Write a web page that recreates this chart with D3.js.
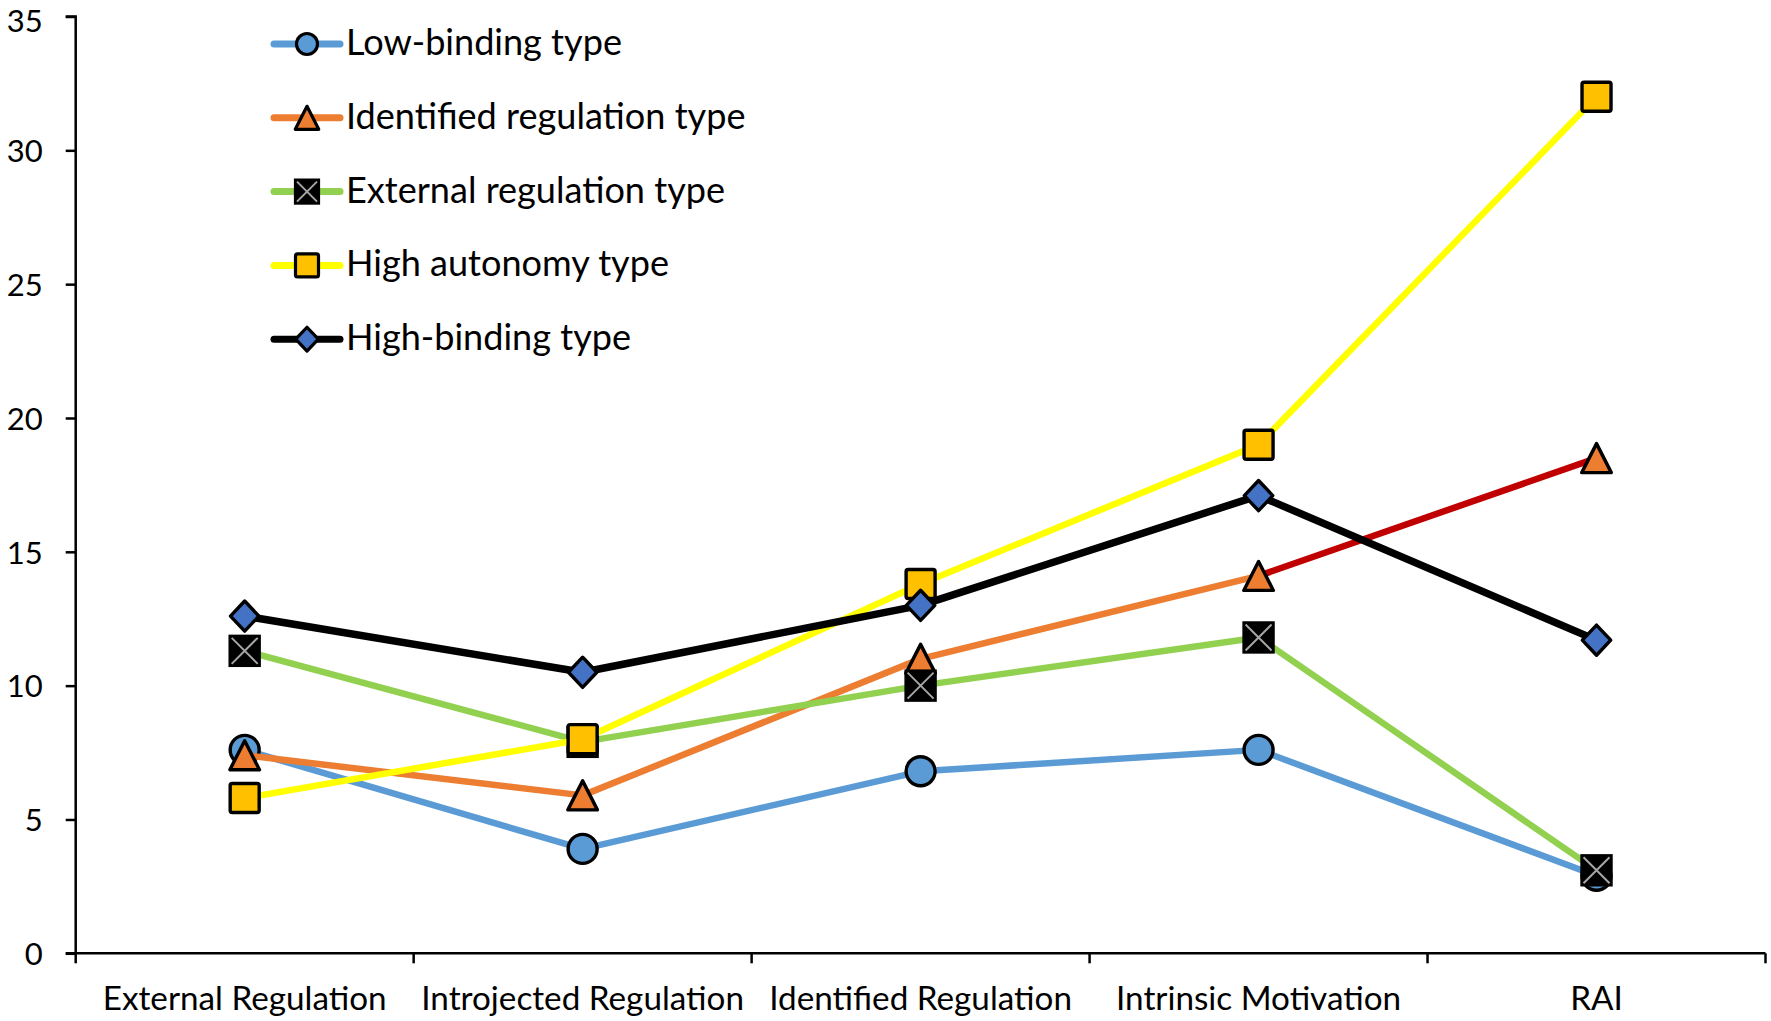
<!DOCTYPE html>
<html>
<head>
<meta charset="utf-8">
<script src="https://cdn.jsdelivr.net/npm/d3@7"></script>
<style>
  html, body { margin: 0; padding: 0; background: #fff; }
  svg { display: block; }
  text { font-family: Lato, "Open Sans", sans-serif; fill: #000; }
</style>
</head>
<body>
<svg id="chart" width="1771" height="1021"></svg>
<script>
// ---------------- DATA ----------------
const categories = ["External Regulation", "Introjected Regulation", "Identified Regulation", "Intrinsic Motivation", "RAI"];
const seriesNames = ["Low-binding type", "Identified regulation type", "External regulation type", "High autonomy type", "High-binding type"];
const lowBinding         = [7.6, 3.9, 6.8, 7.6, 2.9];
const identifiedRegType  = [7.4, 5.9, 11.0, 14.1, 18.5];
const externalRegType    = [11.3, 7.9, 10.0, 11.8, 3.1];
const highAutonomy       = [5.8, 8.0, 13.8, 19.0, 32.0];
const highBinding        = [12.6, 10.5, 13.0, 17.1, 11.7];
const yTickValues = [0, 5, 10, 15, 20, 25, 30, 35];

// ---------------- STYLES ----------------
const seriesValues = [lowBinding, identifiedRegType, externalRegType, highAutonomy, highBinding];
const styles = [
  { line: ["#5B9BD5"], width: 6.5, marker: "circle",   fill: "#5B9BD5" },
  { line: ["#ED7D31", "#ED7D31", "#ED7D31", "#C00000"], width: 6.5, marker: "triangle", fill: "#ED7D31" },
  { line: ["#92D050"], width: 6.5, marker: "xsquare",  fill: "#000000" },
  { line: ["#FFFF00"], width: 6.5, marker: "square",   fill: "#FFC000" },
  { line: ["#000000"], width: 7.5, marker: "diamond",  fill: "#4472C4" }
];

const svg = d3.select("#chart");

// Font size calibration (target widths measured on reference)
function fitSize(str, target) {
  const t = svg.append("text").attr("font-size", 100).text(str);
  const w = t.node().getComputedTextLength();
  t.remove();
  return 100 * target / w;
}
const axisFont = fitSize("External Regulation", 284);
const yTickFont = fitSize("35", 36);
const legendFont = fitSize("Low-binding type", 276);

// ---------------- SCALES ----------------
const x0 = 75.7, x1 = 1765.5, yBottom = 953.3, yTop = 16.5;
const x = d3.scaleBand().domain(categories).range([x0, x1]).paddingInner(0).paddingOuter(0);
const y = d3.scaleLinear().domain([0, 35]).range([yBottom, yTop]);
const cx = c => x(c) + x.bandwidth() / 2;

// ---------------- AXES ----------------
const yAxis = svg.append("g")
  .attr("transform", `translate(${x0},0)`)
  .call(d3.axisLeft(y).tickValues(yTickValues).tickSize(10).tickPadding(23).tickFormat(d3.format("d")));
yAxis.select(".domain").attr("stroke", "#000").attr("stroke-width", 2.5).attr("d", `M-10,${yTop}H0V${yBottom}`);
yAxis.selectAll(".tick line").attr("stroke", "#000").attr("stroke-width", 2.5);
yAxis.selectAll(".tick text").attr("font-size", yTickFont).attr("font-family", "Lato").attr("fill", "#000")
  .attr("dy", d => d === 35 ? "0.48em" : "0.36em");

const xAxis = svg.append("g")
  .attr("transform", `translate(0,${yBottom})`)
  .call(d3.axisBottom(x).tickSize(0).tickPadding(0));
xAxis.select(".domain").attr("stroke", "#000").attr("stroke-width", 2.5).attr("d", `M${x0 - 10},0H${x1}`);
xAxis.selectAll(".tick text").attr("font-size", axisFont).attr("font-family", "Lato").attr("fill", "#000").attr("y", 57).attr("dy", 0);
// category boundary ticks
const boundaries = categories.map(c => x(c) + x.bandwidth()).concat([x0]);
xAxis.selectAll("line.bound").data(boundaries).enter().append("line")
  .attr("class", "bound")
  .attr("x1", d => d).attr("x2", d => d)
  .attr("y1", 0).attr("y2", 10)
  .attr("stroke", "#000").attr("stroke-width", 2.5);

// ---------------- MARKERS ----------------
function drawMarker(g, type, fill, s, sw) {
  if (type === "circle") {
    g.append("circle").attr("r", s / 2).attr("fill", fill).attr("stroke", "#000").attr("stroke-width", sw);
  } else if (type === "triangle") {
    const w = s * 1.02, h = s;
    g.append("path").attr("d", `M0,${-h / 2}L${w / 2},${h / 2}L${-w / 2},${h / 2}Z`)
      .attr("fill", fill).attr("stroke", "#000").attr("stroke-width", sw).attr("stroke-linejoin", "round");
  } else if (type === "square") {
    g.append("rect").attr("x", -s / 2).attr("y", -s / 2).attr("width", s).attr("height", s).attr("rx", 2)
      .attr("fill", fill).attr("stroke", "#000").attr("stroke-width", sw);
  } else if (type === "xsquare") {
    g.append("rect").attr("x", -s / 2).attr("y", -s / 2).attr("width", s).attr("height", s)
      .attr("fill", fill).attr("stroke", "#000").attr("stroke-width", sw);
    const q = s / 2 - 1.5;
    g.append("path").attr("d", `M${-q},${-q}L${q},${q}M${q},${-q}L${-q},${q}`)
      .attr("stroke", "#A6A6A6").attr("stroke-width", 2);
  } else if (type === "diamond") {
    const w = s * 0.98, h = s * 1.04;
    g.append("path").attr("d", `M0,${-h / 2}L${w / 2},0L0,${h / 2}L${-w / 2},0Z`)
      .attr("fill", fill).attr("stroke", "#000").attr("stroke-width", sw).attr("stroke-linejoin", "round");
  }
}

// ---------------- SERIES ----------------
const line = d3.line().x(d => d[0]).y(d => d[1]);
const plot = svg.append("g");
seriesValues.forEach((vals, si) => {
  const st = styles[si];
  const pts = vals.map((v, i) => [cx(categories[i]), y(v)]);
  const g = plot.append("g");
  for (let i = 0; i < pts.length - 1; i++) {
    g.append("path").attr("d", line([pts[i], pts[i + 1]]))
      .attr("fill", "none")
      .attr("stroke", st.line[Math.min(i, st.line.length - 1)])
      .attr("stroke-width", st.width)
      .attr("stroke-linecap", "round");
  }
  pts.forEach(p => {
    const mg = g.append("g").attr("transform", `translate(${p[0]},${p[1]})`);
    drawMarker(mg, st.marker, st.fill, 29, 3.4);
  });
});

// ---------------- LEGEND ----------------
const legend = svg.append("g");
const legendY0 = 44, legendStep = 73.8;
seriesNames.forEach((name, i) => {
  const st = styles[i];
  const ly = legendY0 + i * legendStep;
  const g = legend.append("g").attr("transform", `translate(0,${ly})`);
  g.append("line").attr("x1", 274).attr("x2", 340).attr("y1", 0).attr("y2", 0)
    .attr("stroke", st.line[0]).attr("stroke-width", 7).attr("stroke-linecap", "round");
  const mg = g.append("g").attr("transform", "translate(307,0)");
  drawMarker(mg, st.marker, st.fill, st.marker === "circle" ? 21 : 23, 3.2);
  g.append("text").attr("x", 346).attr("y", 11).attr("font-size", legendFont).text(name);
});
</script>
</body>
</html>
